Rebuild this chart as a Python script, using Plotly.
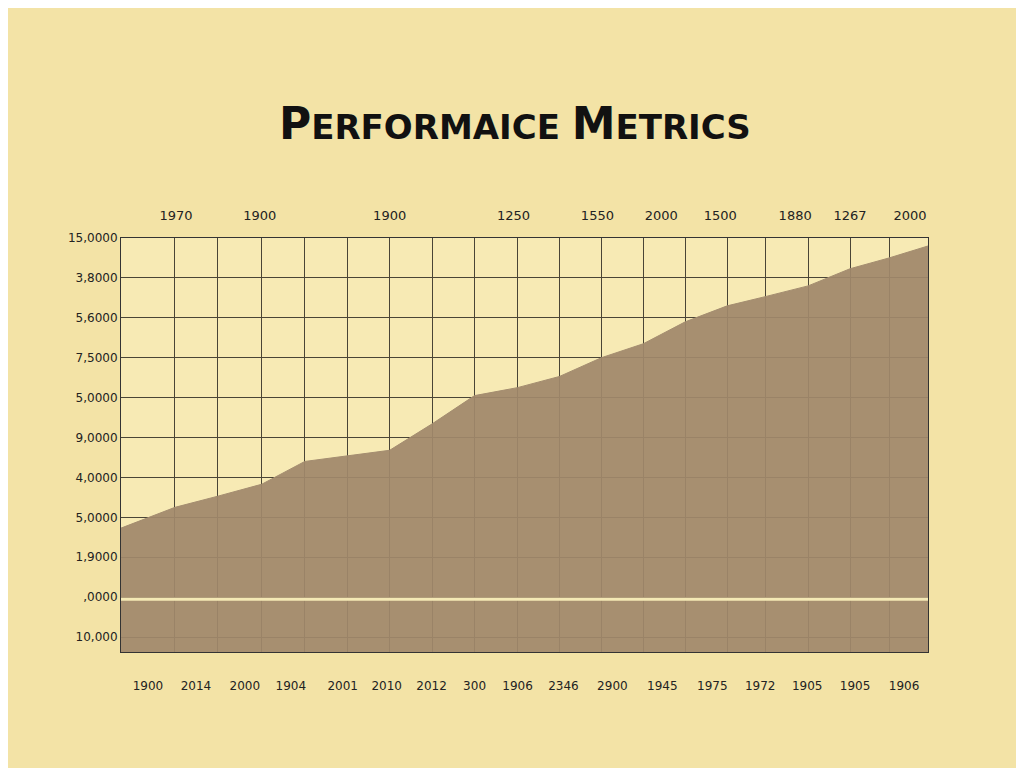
import plotly.graph_objects as go

# x positions of the grid columns and area values (grid units, bottom gridline = 0)
xs = [0, 54, 97, 141, 184, 227, 269, 312, 354, 397,
      439, 481, 523, 565, 607, 645, 688, 730, 769, 808]
area = [2.73, 3.25, 3.53, 3.83, 4.4, 4.55, 4.68, 5.35, 6.05, 6.25,
        6.53, 7.0, 7.35, 7.9, 8.3, 8.53, 8.8, 9.23, 9.5, 9.8]
floor = -0.375

y_ticks = list(range(11))
y_labels = ["10,000", ",0000", "1,9000", "5,0000", "4,0000", "9,0000",
            "5,0000", "7,5000", "5,6000", "3,8000", "15,0000"]

bottom_pos = [27, 75, 124, 170, 222, 266, 311, 354, 397, 443,
              492, 542, 592, 640, 687, 735, 784]
bottom_labels = ["1900", "2014", "2000", "1904", "2001", "2010", "2012", "300", "1906",
                 "2346", "2900", "1945", "1975", "1972", "1905", "1905", "1906"]

top_pos = [55, 139, 269, 393, 477, 541, 600, 675, 730, 790]
top_labels = ["1970", "1900", "1900", "1250", "1550", "2000", "1500", "1880", "1267", "2000"]

line_level = 0.95

fig = go.Figure()
fig.add_trace(go.Scatter(x=[xs[0], xs[-1]], y=[floor, floor], mode="lines",
                         line=dict(width=0), showlegend=False, hoverinfo="skip"))
fig.add_trace(go.Scatter(x=xs, y=area, fill="tonexty", mode="lines",
                         line=dict(color="#a48d70", width=1),
                         fillcolor="rgba(160,136,106,0.93)", showlegend=False))
fig.add_trace(go.Scatter(x=[xs[0], xs[-1]], y=[line_level, line_level], mode="lines",
                         line=dict(color="#f4e9b5", width=3), showlegend=False))
fig.add_trace(go.Scatter(x=[0, 808], y=[0, 0], xaxis="x2", mode="markers",
                         marker=dict(opacity=0), showlegend=False, hoverinfo="skip"))
fig.add_trace(go.Scatter(x=[0, 808], y=[0, 0], xaxis="x3", mode="markers",
                         marker=dict(opacity=0), showlegend=False, hoverinfo="skip"))

fig.update_layout(
    width=1024, height=768,
    paper_bgcolor="#f3e3a6", plot_bgcolor="#f7eab4",
    margin=dict(l=113, r=104, t=230, b=124),
    font=dict(family="DejaVu Sans", color="#222", size=12),
    title=dict(text="<b><span style='font-size:44px'>P</span>ERFORMAICE "
                    "<span style='font-size:44px'>M</span>ETRICS</b>",
               x=0.495, xanchor="center", y=0.845, yanchor="middle",
               font=dict(family="DejaVu Sans", size=34, color="#111")),
    xaxis=dict(range=[0, 808], tickvals=xs, showticklabels=False, showgrid=True,
               gridcolor="#4a4536", gridwidth=1.2, zeroline=False,
               showline=True, linecolor="#333", mirror=True, ticks=""),
    xaxis2=dict(overlaying="x", side="top", range=[0, 808], tickvals=top_pos,
                ticktext=top_labels, showgrid=False, zeroline=False, ticks="",
                anchor="y", ticklabelstandoff=14, tickfont=dict(size=13)),
    xaxis3=dict(overlaying="x", side="bottom", range=[0, 808], tickvals=bottom_pos,
                ticktext=bottom_labels, showgrid=False, zeroline=False, ticks="",
                anchor="free", position=0, ticklabelstandoff=25, tickfont=dict(size=12)),
    yaxis=dict(range=[floor, 10], tickvals=y_ticks, ticktext=y_labels,
               showgrid=True, gridcolor="#4a4536", gridwidth=1.2, zeroline=False,
               showline=True, linecolor="#333", mirror=True, ticks="",
               tickfont=dict(size=12)),
)
fig.write_html("out.html")
